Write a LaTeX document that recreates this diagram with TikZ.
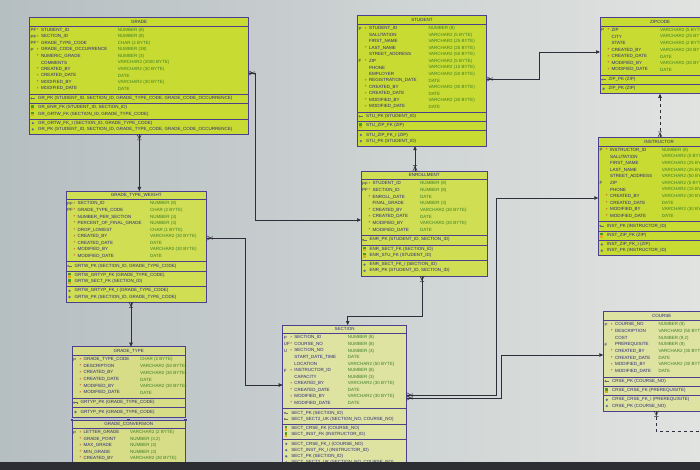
\documentclass[tikz,border=0pt]{standalone}
\usepackage{fontspec}
\setmainfont{Liberation Sans}
\usetikzlibrary{arrows.meta,calc}
\definecolor{tabline}{HTML}{4B3F8E}
\definecolor{namecol}{HTML}{2B2878}
\definecolor{typecol}{HTML}{3C7F24}
\definecolor{starcol}{HTML}{D0281E}
\definecolor{relcol}{HTML}{2E2E3A}
\definecolor{limeA}{HTML}{C8DB33}
\definecolor{limeB}{HTML}{CFDE52}
\definecolor{paleA}{HTML}{DEE3A2}
\definecolor{paleB}{HTML}{D7DD86}
\definecolor{bgL}{HTML}{B5BEC1}
\definecolor{bgR}{HTML}{E1E3E1}
\definecolor{taskbar}{HTML}{2C2E33}
\definecolor{fkgreen}{HTML}{4E9A2A}
\definecolor{fkyel}{HTML}{E0B020}
\definecolor{ixcol}{HTML}{5F6E9A}
\definecolor{keygray}{HTML}{6A6A6A}
\newcommand\tabfont{\fontsize{4.5}{5.2}\selectfont}
\tikzset{
  tabbox/.style={draw=tabline,line width=0.6pt,inner sep=0pt,outer sep=0pt,anchor=north west},
  sepline/.style={draw=tabline,line width=0.5pt},
  titlet/.style={inner sep=0pt,text=namecol,font=\tabfont},
  keyt/.style={anchor=west,inner sep=0pt,text=namecol,font=\tabfont},
  stark/.style={anchor=west,inner sep=0pt,text=starcol,font=\tabfont},
  namet/.style={anchor=west,inner sep=0pt,text=namecol,font=\tabfont},
  typet/.style={anchor=west,inner sep=0pt,text=typecol,font=\tabfont},
  sectxt/.style={anchor=west,inner sep=0pt,text=namecol,font=\tabfont},
  relline/.style={draw=relcol,line width=0.6pt},
  optrel/.style={relline,dashed},
  reltip/.style={-{Triangle[length=4pt,width=3.4pt]}},
  crow/.pic={\draw[relcol,line width=0.5pt] (0,-2.2)--(4.5,0)--(0,2.2) (0,0)--(4.5,0) (5.5,-2.2)--(5.5,2.2);},
  pkic/.pic={\fill[keygray] (-1.4,0) circle (1.1); \draw[keygray,line width=0.5pt] (-0.5,0)--(2,0) (1.3,0)--(1.3,0.9);},
  fkic/.pic={\fill[fkgreen] (-1.6,-2.3) rectangle (1.2,0); \fill[fkyel] (-1.6,0) rectangle (1.2,2.3);},
  ixic/.pic={\fill[ixcol] (0,-1.3)--(1.3,0)--(0,1.3)--(-1.3,0)--cycle;},
}
\newcommand\tabsize[5]{\def\Tn{#1}\def\Tp{#2}\def\Tf{#3}\def\Ti{#4}\def\Ts{#5}}
\newcommand\mktable[7]{%
  \pgfmathsetmacro\Thb{#5+8.5}%
  \pgfmathsetmacro\Tsa{\Thb+4.3+(\Tn-1)*\Ts+5.5}%
  \pgfmathsetmacro\Tsb{\Tsa+9.3+(\Tp-1)*6.2}%
  \ifnum\Tf>0 \pgfmathsetmacro\Tsc{\Tsb+9.3+(\Tf-1)*6.2}\else\let\Tsc\Tsb\fi
  \pgfmathsetmacro\Tbot{\Tsc+9.3+(\Ti-1)*6.2}%
  \pgfmathsetmacro\Tw{#4-#3}%
  \pgfmathsetmacro\Th{\Tbot-#5}%
  \def\Tid{#1}\def\Tl{#3}\def\Tr{#4}\def\Tyo{#6}%
  \node[tabbox,fill=#7,minimum width=\Tw pt,minimum height=\Th pt] (#1) at (#3,#5) {};
  \node[titlet] (#1-title) at ({(#3+#4)/2},{#5+4.4}) {#2};
  \draw[sepline] (#3,\Thb) -- (#4,\Thb);
  \draw[sepline] (#3,\Tsa) -- (#4,\Tsa);
  \draw[sepline] (#3,\Tsb) -- (#4,\Tsb);
  \ifnum\Tf>0 \draw[sepline] (#3,\Tsc) -- (#4,\Tsc);\fi
}
\newcommand\tabrows[1]{%
  \foreach \rk/\rs/\rn/\rt [count=\i] in {#1}{%
    \pgfmathsetmacro\yy{\Thb+4.3+(\i-1)*\Ts}%
    \node[keyt] (\Tid-k\i) at (\Tl+1,\yy) {\rk};
    \node[stark] (\Tid-s\i) at (\Tl+7.4,\yy) {\rs};
    \node[namet] (\Tid-n\i) at (\Tl+11.5,\yy) {\rn};
    \node[typet] (\Tid-t\i) at (\Tl+\Tyo,\yy) {\rt};
  }}
\newcommand\tabsec[3]{%
  \foreach \rn [count=\i] in {#3}{%
    \pgfmathsetmacro\yy{#1+4.3+(\i-1)*6.2}%
    \pic at (\Tl+3.5,\yy) {#2};
    \node[sectxt] (\Tid-#2\i) at (\Tl+8.5,\yy) {\rn};
  }}
\begin{document}
\begin{tikzpicture}[x=1pt,y=-1pt]
\useasboundingbox (0,0) rectangle (700,470);
\clip (0,0) rectangle (700,470);
\shade[left color=bgL,right color=bgR] (0,0) rectangle (700,470);

% GRADE
\tabsize{10}{1}{2}{2}{6.5}
\mktable{grade}{GRADE}{29.3}{248.7}{17.3}{88.4}{limeA}
\tabrows{PF/*/STUDENT\_ID/NUMBER (8),
PF/*/SECTION\_ID/NUMBER (8),
PF/*/GRADE\_TYPE\_CODE/CHAR (2 BYTE),
P/*/GRADE\_CODE\_OCCURRENCE/NUMBER (38),
{}/*/NUMERIC\_GRADE/NUMBER (3),
{}/{}/COMMENTS/VARCHAR2 (2000 BYTE),
{}/*/CREATED\_BY/VARCHAR2 (30 BYTE),
{}/*/CREATED\_DATE/DATE,
{}/*/MODIFIED\_BY/VARCHAR2 (30 BYTE),
{}/*/MODIFIED\_DATE/DATE}
\tabsec{\Tsa}{pkic}{{GR\_PK (STUDENT\_ID, SECTION\_ID, GRADE\_TYPE\_CODE, GRADE\_CODE\_OCCURRENCE)}}
\tabsec{\Tsb}{fkic}{{GR\_ENR\_FK (STUDENT\_ID, SECTION\_ID)},{GR\_GRTW\_FK (SECTION\_ID, GRADE\_TYPE\_CODE)}}
\tabsec{\Tsc}{ixic}{{GR\_GRTW\_FK\_I (SECTION\_ID, GRADE\_TYPE\_CODE)},{GR\_PK (STUDENT\_ID, SECTION\_ID, GRADE\_TYPE\_CODE, GRADE\_CODE\_OCCURRENCE)}}

% STUDENT
\tabsize{13}{1}{1}{2}{6.5}
\mktable{student}{STUDENT}{357.3}{486.7}{15.7}{71}{limeA}
\tabrows{P/*/STUDENT\_ID/NUMBER (8),
{}/{}/SALUTATION/VARCHAR2 (5 BYTE),
{}/{}/FIRST\_NAME/VARCHAR2 (25 BYTE),
{}/*/LAST\_NAME/VARCHAR2 (25 BYTE),
{}/{}/STREET\_ADDRESS/VARCHAR2 (50 BYTE),
F/*/ZIP/VARCHAR2 (5 BYTE),
{}/{}/PHONE/VARCHAR2 (15 BYTE),
{}/{}/EMPLOYER/VARCHAR2 (50 BYTE),
{}/*/REGISTRATION\_DATE/DATE,
{}/*/CREATED\_BY/VARCHAR2 (30 BYTE),
{}/*/CREATED\_DATE/DATE,
{}/*/MODIFIED\_BY/VARCHAR2 (30 BYTE),
{}/*/MODIFIED\_DATE/DATE}
\tabsec{\Tsa}{pkic}{{STU\_PK (STUDENT\_ID)}}
\tabsec{\Tsb}{fkic}{{STU\_ZIP\_FK (ZIP)}}
\tabsec{\Tsc}{ixic}{{STU\_ZIP\_FK\_I (ZIP)},{STU\_PK (STUDENT\_ID)}}

% ZIPCODE
\tabsize{7}{1}{0}{1}{6.6}
\mktable{zipcode}{ZIPCODE}{600}{720}{17.3}{60}{limeA}
\tabrows{P/*/ZIP/VARCHAR2 (5 BYTE),
{}/{}/CITY/VARCHAR2 (25 BYTE),
{}/{}/STATE/VARCHAR2 (2 BYTE),
{}/*/CREATED\_BY/VARCHAR2 (30 BYTE),
{}/*/CREATED\_DATE/DATE,
{}/*/MODIFIED\_BY/VARCHAR2 (30 BYTE),
{}/*/MODIFIED\_DATE/DATE}
\tabsec{\Tsa}{pkic}{{ZIP\_PK (ZIP)}}
\tabsec{\Tsc}{ixic}{{ZIP\_PK (ZIP)}}

% INSTRUCTOR
\tabsize{11}{1}{1}{2}{6.6}
\mktable{instructor}{INSTRUCTOR}{598.3}{720}{137.3}{63.4}{limeA}
\tabrows{P/*/INSTRUCTOR\_ID/NUMBER (8),
{}/{}/SALUTATION/VARCHAR2 (5 BYTE),
{}/{}/FIRST\_NAME/VARCHAR2 (25 BYTE),
{}/{}/LAST\_NAME/VARCHAR2 (25 BYTE),
{}/{}/STREET\_ADDRESS/VARCHAR2 (50 BYTE),
F/{}/ZIP/VARCHAR2 (5 BYTE),
{}/{}/PHONE/VARCHAR2 (15 BYTE),
{}/*/CREATED\_BY/VARCHAR2 (30 BYTE),
{}/*/CREATED\_DATE/DATE,
{}/*/MODIFIED\_BY/VARCHAR2 (30 BYTE),
{}/*/MODIFIED\_DATE/DATE}
\tabsec{\Tsa}{pkic}{{INST\_PK (INSTRUCTOR\_ID)}}
\tabsec{\Tsb}{fkic}{{INST\_ZIP\_FK (ZIP)}}
\tabsec{\Tsc}{ixic}{{INST\_ZIP\_FK\_I (ZIP)},{INST\_PK (INSTRUCTOR\_ID)}}

% GRADE_TYPE_WEIGHT
\tabsize{9}{1}{2}{2}{6.55}
\mktable{gtw}{GRADE\_TYPE\_WEIGHT}{66}{206.7}{191}{84}{limeB}
\tabrows{PF/*/SECTION\_ID/NUMBER (8),
PF/*/GRADE\_TYPE\_CODE/CHAR (2 BYTE),
{}/*/NUMBER\_PER\_SECTION/NUMBER (3),
{}/*/PERCENT\_OF\_FINAL\_GRADE/NUMBER (3),
{}/*/DROP\_LOWEST/CHAR (1 BYTE),
{}/*/CREATED\_BY/VARCHAR2 (30 BYTE),
{}/*/CREATED\_DATE/DATE,
{}/*/MODIFIED\_BY/VARCHAR2 (30 BYTE),
{}/*/MODIFIED\_DATE/DATE}
\tabsec{\Tsa}{pkic}{{GRTW\_PK (SECTION\_ID, GRADE\_TYPE\_CODE)}}
\tabsec{\Tsb}{fkic}{{GRTW\_GRTYP\_FK (GRADE\_TYPE\_CODE)},{GRTW\_SECT\_FK (SECTION\_ID)}}
\tabsec{\Tsc}{ixic}{{GRTW\_GRTYP\_FK\_I (GRADE\_TYPE\_CODE)},{GRTW\_PK (SECTION\_ID, GRADE\_TYPE\_CODE)}}

% ENROLLMENT
\tabsize{8}{1}{2}{2}{6.6}
\mktable{enr}{ENROLLMENT}{361}{487.7}{171}{59}{limeB}
\tabrows{PF/*/STUDENT\_ID/NUMBER (8),
PF/*/SECTION\_ID/NUMBER (8),
{}/*/ENROLL\_DATE/DATE,
{}/{}/FINAL\_GRADE/NUMBER (3),
{}/*/CREATED\_BY/VARCHAR2 (30 BYTE),
{}/*/CREATED\_DATE/DATE,
{}/*/MODIFIED\_BY/VARCHAR2 (30 BYTE),
{}/*/MODIFIED\_DATE/DATE}
\tabsec{\Tsa}{pkic}{{ENR\_PK (STUDENT\_ID, SECTION\_ID)}}
\tabsec{\Tsb}{fkic}{{ENR\_SECT\_FK (SECTION\_ID)},{ENR\_STU\_FK (STUDENT\_ID)}}
\tabsec{\Tsc}{ixic}{{ENR\_SECT\_FK\_I (SECTION\_ID)},{ENR\_PK (STUDENT\_ID, SECTION\_ID)}}

% SECTION
\tabsize{11}{2}{2}{4}{6.53}
\mktable{section}{SECTION}{282.7}{406.7}{325}{65}{paleA}
\tabrows{P/*/SECTION\_ID/NUMBER (8),
UF/*/COURSE\_NO/NUMBER (8),
U/*/SECTION\_NO/NUMBER (3),
{}/{}/START\_DATE\_TIME/DATE,
{}/{}/LOCATION/VARCHAR2 (50 BYTE),
F/*/INSTRUCTOR\_ID/NUMBER (8),
{}/{}/CAPACITY/NUMBER (3),
{}/*/CREATED\_BY/VARCHAR2 (30 BYTE),
{}/*/CREATED\_DATE/DATE,
{}/*/MODIFIED\_BY/VARCHAR2 (30 BYTE),
{}/*/MODIFIED\_DATE/DATE}
\tabsec{\Tsa}{pkic}{{SECT\_PK (SECTION\_ID)},{SECT\_SECT2\_UK (SECTION\_NO, COURSE\_NO)}}
\tabsec{\Tsb}{fkic}{{SECT\_CRSE\_FK (COURSE\_NO)},{SECT\_INST\_FK (INSTRUCTOR\_ID)}}
\tabsec{\Tsc}{ixic}{{SECT\_CRSE\_FK\_I (COURSE\_NO)},{SECT\_INST\_FK\_I (INSTRUCTOR\_ID)},{SECT\_PK (SECTION\_ID)},{SECT\_SECT2\_UK (SECTION\_NO, COURSE\_NO)}}

% COURSE
\tabsize{8}{1}{1}{2}{6.7}
\mktable{course}{COURSE}{603.3}{720}{311.7}{55}{paleA}
\tabrows{P/*/COURSE\_NO/NUMBER (8),
{}/*/DESCRIPTION/VARCHAR2 (50 BYTE),
{}/{}/COST/{NUMBER (9,2)},
F/{}/PREREQUISITE/NUMBER (8),
{}/*/CREATED\_BY/VARCHAR2 (30 BYTE),
{}/*/CREATED\_DATE/DATE,
{}/*/MODIFIED\_BY/VARCHAR2 (30 BYTE),
{}/*/MODIFIED\_DATE/DATE}
\tabsec{\Tsa}{pkic}{{CRSE\_PK (COURSE\_NO)}}
\tabsec{\Tsb}{fkic}{{CRSE\_CRSE\_FK (PREREQUISITE)}}
\tabsec{\Tsc}{ixic}{{CRSE\_CRSE\_FK\_I (PREREQUISITE)},{CRSE\_PK (COURSE\_NO)}}

% GRADE_TYPE
\tabsize{6}{1}{0}{1}{6.67}
\mktable{gradetype}{GRADE\_TYPE}{72}{185.5}{346.7}{68}{paleB}
\tabrows{P/*/GRADE\_TYPE\_CODE/CHAR (2 BYTE),
{}/*/DESCRIPTION/VARCHAR2 (50 BYTE),
{}/*/CREATED\_BY/VARCHAR2 (30 BYTE),
{}/*/CREATED\_DATE/DATE,
{}/*/MODIFIED\_BY/VARCHAR2 (30 BYTE),
{}/*/MODIFIED\_DATE/DATE}
\tabsec{\Tsa}{pkic}{{GRTYP\_PK (GRADE\_TYPE\_CODE)}}
\tabsec{\Tsc}{ixic}{{GRTYP\_PK (GRADE\_TYPE\_CODE)}}

% GRADE_CONVERSION
\tabsize{5}{1}{0}{1}{6.4}
\mktable{gradeconv}{GRADE\_CONVERSION}{72}{185.5}{420}{58}{paleB}
\tabrows{P/*/LETTER\_GRADE/VARCHAR2 (2 BYTE),
{}/*/GRADE\_POINT/{NUMBER (3,2)},
{}/*/MAX\_GRADE/NUMBER (3),
{}/*/MIN\_GRADE/NUMBER (3),
{}/*/CREATED\_BY/VARCHAR2 (30 BYTE)}
\foreach \hx in {72,128.75,185.5}{\fill[tabline] (\hx-1.4,418.6) rectangle ++(2.8,2.8);}

% relationships
\coordinate (c1a) at ([yshift=-55.7pt]grade.north east);
\coordinate (c1b) at ([yshift=-49pt]enr.north west);
\draw[relline,reltip] (c1a) -- ++(6.5,0) |- (c1b);
\pic at (c1a) {crow};

\coordinate (c2a) at ([xshift=110pt]grade.south west);
\draw[relline,reltip] (c2a) -- (c2a |- gtw.north);
\pic[rotate=-90] at (c2a) {crow};

\coordinate (c3a) at ([yshift=-47pt]gtw.north east);
\coordinate (c3b) at ([yshift=-60pt]section.north west);
\draw[relline,reltip] (c3a) -- ++(38.5,0) |- (c3b);
\pic at (c3a) {crow};

\coordinate (c4a) at ([xshift=65pt]gtw.south west);
\draw[relline,reltip] (c4a) -- (c4a |- gradetype.north);
\pic[rotate=-90] at (c4a) {crow};

\coordinate (c5a) at ([xshift=54pt]enr.north west);
\draw[relline,reltip] (c5a) -- (c5a |- student.south);
\pic[rotate=90] at (c5a) {crow};

\coordinate (c6a) at ([xshift=61pt]enr.south west);
\coordinate (c6b) at ([xshift=65pt]section.north west);
\draw[relline,reltip] (c6a) -- ++(0,40) -| (c6b);
\pic[rotate=-90] at (c6a) {crow};

\coordinate (c7a) at ([yshift=-63.3pt]student.north east);
\coordinate (c7b) at ([yshift=-34.7pt]zipcode.north west);
\draw[relline,reltip] (c7a) -- ++(53,0) |- (c7b);
\pic at (c7a) {crow};

\coordinate (c8a) at ([xshift=61.7pt]instructor.north west);
\draw[optrel,reltip] (c8a) -- (c8a |- zipcode.south);
\pic[rotate=90] at (c8a) {crow};

\coordinate (c9a) at ([yshift=-70pt]section.north east);
\coordinate (c9b) at ([yshift=-60.7pt]instructor.north west);
\draw[relline,reltip] (c9a) -- ++(89.3,0) |- (c9b);
\pic at (c9a) {crow};

\coordinate (c10a) at ([yshift=-73pt]section.north east);
\coordinate (c10b) at ([yshift=-43.3pt]course.north west);
\draw[relline,reltip] (c10a) -- ++(94.3,0) |- (c10b);
\pic at (c10a) {crow};

\coordinate (c11a) at ([xshift=53pt]course.south west);
\coordinate (crseloop) at ([xshift=120pt,yshift=-20pt]course.south west);
\draw[optrel] (c11a) |- (crseloop);
\pic[rotate=-90] at (c11a) {crow};

% taskbar
\fill[taskbar] (0,462) rectangle (700,470);
\end{tikzpicture}
\end{document}
